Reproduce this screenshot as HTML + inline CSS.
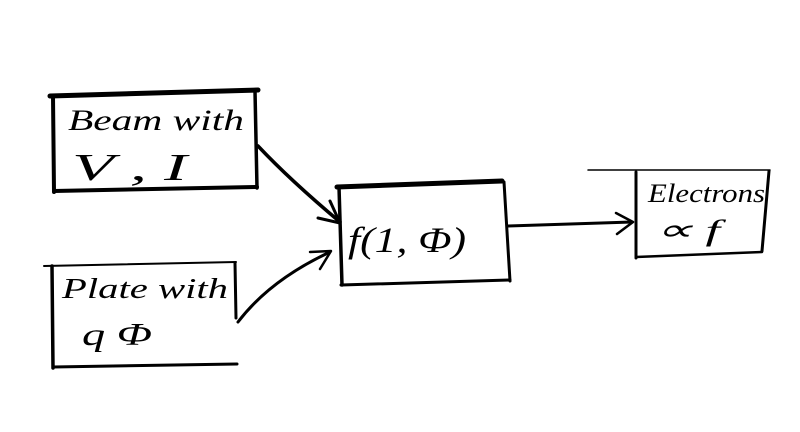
<!DOCTYPE html>
<html><head><meta charset="utf-8"><style>
html,body{margin:0;padding:0;background:#fff;}
svg{display:block;}
text{font-family:"Liberation Serif",serif;font-style:italic;fill:#000;}
</style></head><body>
<svg width="800" height="432" viewBox="0 0 800 432" xmlns="http://www.w3.org/2000/svg">
<g fill="none" stroke="#000" stroke-linecap="round" stroke-linejoin="round">
<path d="M50 96 L258 90" stroke-width="5"/>
<path d="M53 96 L54 192" stroke-width="4"/>
<path d="M255 91 L257 188" stroke-width="3.5"/>
<path d="M54 191 L257 187" stroke-width="4"/>
<path d="M44 266 L236 262" stroke-width="2"/>
<path d="M52 266 L53 368" stroke-width="3.5"/>
<path d="M235 263 L236 318" stroke-width="3"/>
<path d="M53 367 L237 364" stroke-width="3"/>
<path d="M337 187 L502 181" stroke-width="5"/>
<path d="M339 187 L342 285" stroke-width="3.5"/>
<path d="M504 182 L510 281" stroke-width="3"/>
<path d="M341 285 L510 280" stroke-width="3"/>
<path d="M588 170 L770 170" stroke-width="1.5"/>
<path d="M636 172 L636 258" stroke-width="3"/>
<path d="M769 171 L762 251" stroke-width="3"/>
<path d="M636 257 L762 252" stroke-width="2.5"/>
<path d="M258 146 Q290 180 340 222" stroke-width="3.5"/>
<path d="M318 218 L340 223 L330 201" stroke-width="3"/>
<path d="M238 322 Q270 280 330 252" stroke-width="3"/>
<path d="M310 252 L331 251 L320 269" stroke-width="2.5"/>
<path d="M508 226 L632 222" stroke-width="3"/>
<path d="M616 213 L633 222 L617 234" stroke-width="2.5"/>
</g>
<text x="68" y="130" font-size="30" textLength="176" lengthAdjust="spacingAndGlyphs">Beam with</text>
<text x="72" y="180" font-size="38" textLength="115" lengthAdjust="spacingAndGlyphs">V , I</text>
<text x="62" y="298" font-size="28" textLength="166" lengthAdjust="spacingAndGlyphs">Plate with</text>
<text x="82" y="345" font-size="32" textLength="70" lengthAdjust="spacingAndGlyphs">q Φ</text>
<text x="348" y="252" font-size="36" textLength="118" lengthAdjust="spacingAndGlyphs">f(1, Φ)</text>
<text x="648" y="202" font-size="26" textLength="117" lengthAdjust="spacingAndGlyphs">Electrons</text>
<text x="655" y="240" font-size="30" textLength="65" lengthAdjust="spacingAndGlyphs">∝ f</text>
</svg>
</body></html>
